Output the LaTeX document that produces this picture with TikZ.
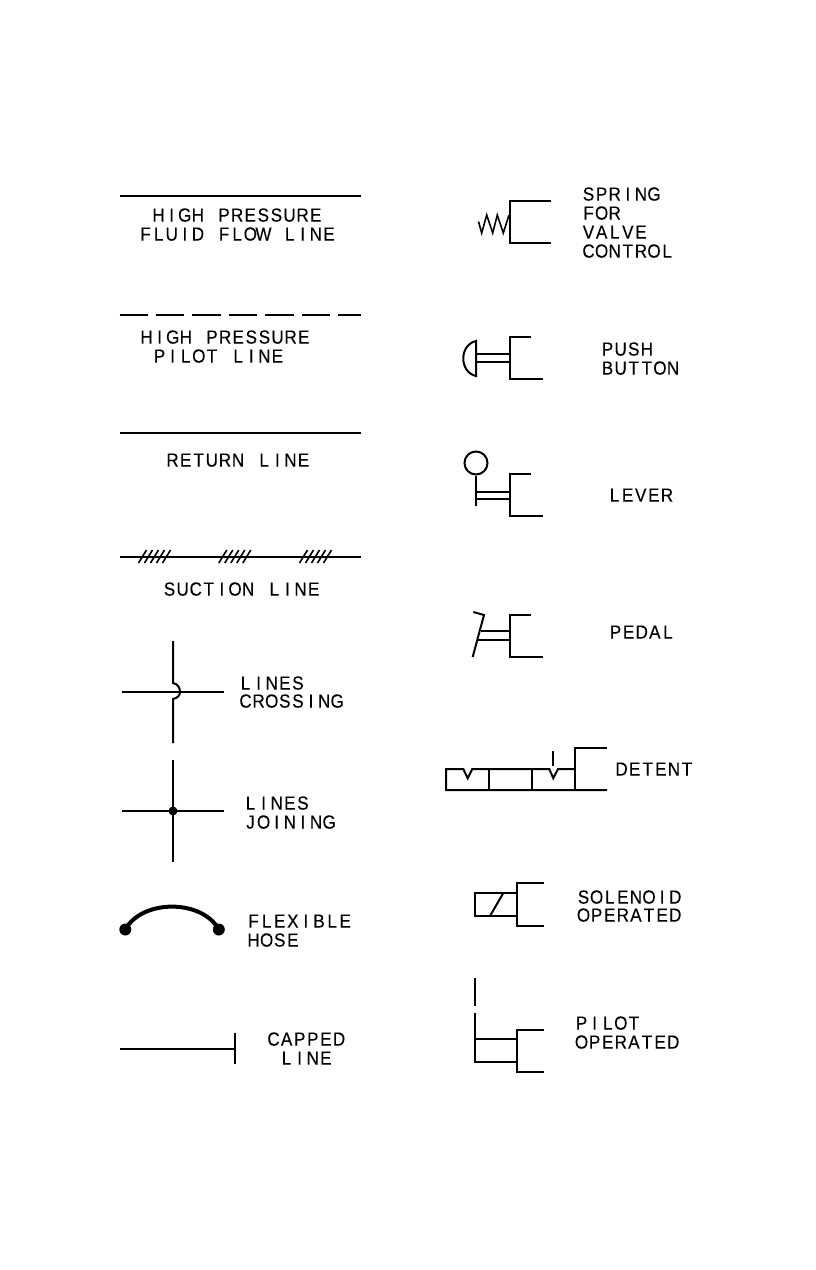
\documentclass[tikz,border=0pt]{standalone}
\usepackage{fontspec}
\setmainfont[FakeStretch=0.9,FakeBold=0.12]{Liberation Sans}
\ExplSyntaxOn
\NewDocumentCommand\monotext{m}{ \str_map_inline:nn {#1} { \hbox~to~13.1pt{\hss ##1\hss} } }
\ExplSyntaxOff
\tikzset{
  lbl/.style={anchor=base west,inner sep=0pt,outer sep=0pt,xshift=1pt,yshift=0.4pt,font=\fontsize{19}{19}\selectfont,text=black},
  ln/.style={draw=black,line width=2pt,line cap=butt,line join=miter},
  fine/.style={draw=black,line width=1.6pt,line join=miter},
  dotted node/.style={circle,fill=black,inner sep=0pt},
}
\begin{document}
\begin{tikzpicture}[x=1pt,y=-1pt]
\useasboundingbox (0,0) rectangle (816,1270);
\fill[white] (0,0) rectangle (816,1270);
% left column
\draw[ln] (120,196) -- (361,196);
\node[lbl] (a1) at (151,222) {\monotext{HIGH PRESSURE}};
\node[lbl] (a2) at (138,241) {\monotext{FLUID FLOW LINE}};
\foreach \i in {0,...,5}{\draw[ln] ({119.5+36.4*\i},315) -- ({147.9+36.4*\i},315);}
\draw[ln] (338,315) -- (361,315);
\node[lbl] (b1) at (139,344) {\monotext{HIGH PRESSURE}};
\node[lbl] (b2) at (152,363) {\monotext{PILOT LINE}};
\draw[ln] (120,433) -- (361,433);
\node[lbl] (c1) at (165,467) {\monotext{RETURN LINE}};
\draw[ln] (120,557) -- (361,557);
\foreach \g in {139,219.3,300}{\foreach \k in {0,...,4}{\draw[fine] ({\g+6*\k-0.5},563) -- ({\g+6*\k+7.5},550);}}
\node[lbl] (d1) at (162,596) {\monotext{SUCTION LINE}};
\draw[ln] (122,692) -- (224,692);
\draw[ln] (173,641) -- (173,683) .. controls (178,684) and (180,688) .. (180,692) .. controls (180,695) and (178,698) .. (173,699) -- (173,743);
\node[lbl] (e1) at (238,690) {\monotext{LINES}};
\node[lbl] (e2) at (238,708) {\monotext{CROSSING}};
\draw[ln] (122,811) -- (224,811);
\draw[ln] (173,760) -- (173,862);
\node[dotted node,minimum size=9pt] (f0) at (173,811) {};
\node[lbl] (f1) at (243,810) {\monotext{LINES}};
\node[lbl] (f2) at (243,829) {\monotext{JOINING}};
\node[dotted node,minimum size=12pt] (g1) at (125.3,929.5) {};
\node[dotted node,minimum size=12pt] (g2) at (218.8,929.5) {};
\draw[draw=black,line width=4pt] (g1.center) .. controls (142,899) and (202,899) .. (g2.center);
\node[lbl] (g3) at (246,928) {\monotext{FLEXIBLE}};
\node[lbl] (g4) at (246,947) {\monotext{HOSE}};
\draw[ln] (120,1049) -- (235,1049);
\draw[ln] (235,1033) -- (235,1064);
\node[lbl] (h1) at (266,1046) {\monotext{CAPPED}};
\node[lbl] (h2) at (279,1065) {\monotext{LINE}};
% right column: spring
\draw[ln] (551,201) -- (510,201) -- (510,243) -- (551,243);
\draw[fine] (478.5,221.5) -- (481.7,233) -- (486.7,215) -- (492.7,233) -- (497.3,215) -- (503.3,233) -- (509,215);
\node[lbl] (i1) at (581,201) {\monotext{SPRING}};
\node[lbl] (i2) at (581,220) {\monotext{FOR}};
\node[lbl] (i3) at (581,239) {\monotext{VALVE}};
\node[lbl] (i4) at (581,258) {\monotext{CONTROL}};
% push button
\draw[ln] (531,337) -- (510,337) -- (510,379) -- (543,379);
\draw[ln] (476,354) -- (510,354) (476,362) -- (510,362);
\draw[ln] (476,341) -- (476,376) .. controls (459,372) and (459,345) .. cycle;
\node[lbl] (j1) at (600,356) {\monotext{PUSH}};
\node[lbl] (j2) at (600,375) {\monotext{BUTTON}};
% lever
\draw[ln] (531,474) -- (510,474) -- (510,516) -- (543,516);
\draw[ln] (476,492) -- (510,492) (476,499) -- (510,499);
\node[circle,draw=black,line width=2pt,minimum size=23pt,inner sep=0pt] (k0) at (476,463) {};
\draw[ln] (k0.south) -- (476,506);
\node[lbl] (k1) at (607,502) {\monotext{LEVER}};
% pedal
\draw[ln] (531,615) -- (510,615) -- (510,657) -- (543,657);
\draw[ln] (480.7,631) -- (510,631) (478.3,640) -- (510,640);
\draw[ln] (473.3,612) -- (484,615) -- (472.7,657);
\node[lbl] (l1) at (608,639) {\monotext{PEDAL}};
% detent
\draw[ln] (607,748) -- (575,748) -- (575,790);
\draw[ln] (607,790) -- (446,790) -- (446,769) -- (463.3,769) -- (467.7,778.3) -- (472.3,769) -- (549.3,769) -- (553.3,778.3) -- (558,769) -- (575,769);
\draw[ln] (489,769) -- (489,790) (532,769) -- (532,790);
\draw[ln] (553,751) -- (553,766);
\node[lbl] (m1) at (614,776) {\monotext{DETENT}};
% solenoid
\draw[ln] (544,883) -- (517,883) -- (517,926) -- (544,926);
\draw[ln] (517,893) -- (475,893) -- (475,916) -- (517,916);
\draw[ln] (503.3,893) -- (490,916);
\node[lbl] (n1) at (576,904) {\monotext{SOLENOID}};
\node[lbl] (n2) at (576,922) {\monotext{OPERATED}};
% pilot
\draw[ln] (544,1030) -- (517,1030) -- (517,1072) -- (544,1072);
\draw[ln] (475,978) -- (475,1006);
\draw[ln] (475,1013) -- (475,1062) -- (517,1062);
\draw[ln] (475,1039) -- (517,1039);
\node[lbl] (o1) at (574,1030) {\monotext{PILOT}};
\node[lbl] (o2) at (574,1049) {\monotext{OPERATED}};
\end{tikzpicture}
\end{document}
